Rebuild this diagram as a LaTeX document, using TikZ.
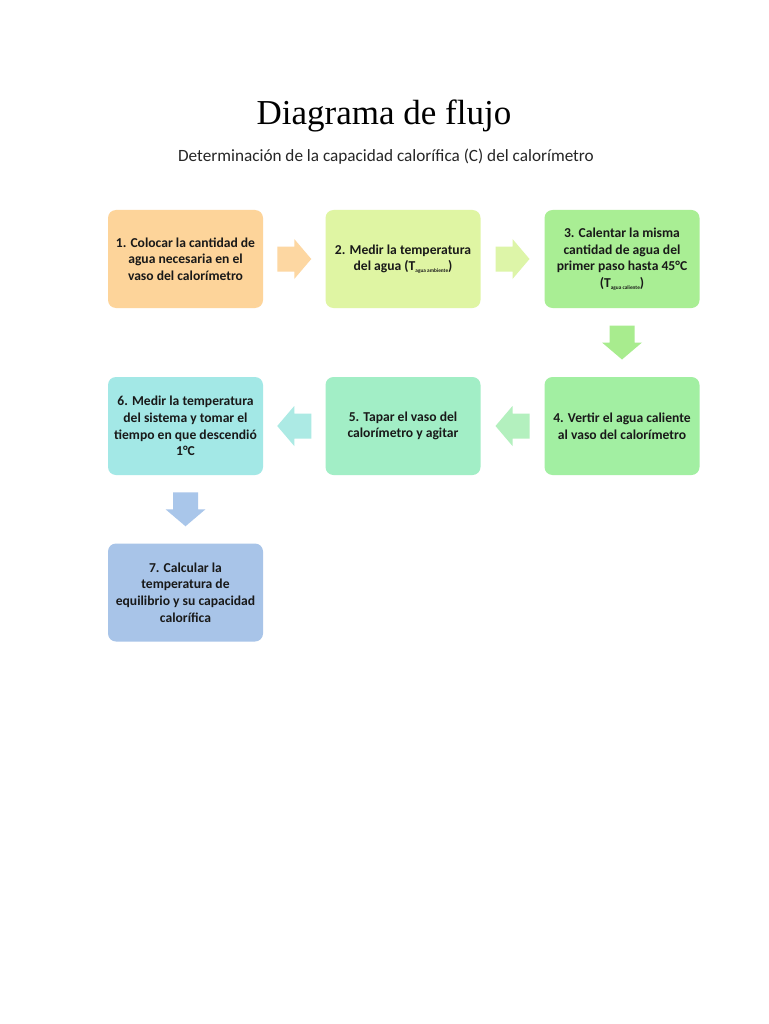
\documentclass[tikz,border=0pt]{standalone}
\usepackage{fontspec}
\setmainfont{Carlito}
\newfontfamily\titlefont{Liberation Serif}
\usetikzlibrary{calc}
\definecolor{c1}{HTML}{FDD49A}
\definecolor{c2}{HTML}{DFF5A3}
\definecolor{c3}{HTML}{A9EE94}
\definecolor{c4}{HTML}{A2EFA2}
\definecolor{c5}{HTML}{A2EEC6}
\definecolor{c6}{HTML}{A3E8E6}
\definecolor{c7}{HTML}{A8C4E8}
\definecolor{a1}{HTML}{FDD7A2}
\definecolor{a2}{HTML}{DDF5A8}
\definecolor{a3}{HTML}{A8EC8E}
\definecolor{a4}{HTML}{B3F0BE}
\definecolor{a5}{HTML}{ACEAE4}
\definecolor{a6}{HTML}{A9C6EA}
\newcommand{\subT}[1]{T\raisebox{-1.8pt}{\fontsize{5.3}{5.3}\selectfont #1})}
\newcommand{\blockarrow}[3]{%
  \fill[#3, shift={(#1)}, rotate=#2] (-17,-12.5) -- (0,-12.5) -- (0,-20) -- (17,0) -- (0,20) -- (0,12.5) -- (-17,12.5) -- cycle;}
\tikzset{
  stepbox/.style={draw=none, rounded corners=8pt, minimum width=155pt, minimum height=98pt,
    text width=152pt, align=flush center, inner sep=0pt, text=black!90,
    font=\bfseries\fontsize{13.6}{16.6}\selectfont},
}
\begin{document}
\begin{tikzpicture}[x=1pt,y=-1pt]
\useasboundingbox[fill=white] (0,0) rectangle (768,1024);
\node[anchor=base, font=\titlefont\fontsize{35}{40}\selectfont] (title) at (384,125) {Diagrama de flujo};
\node[anchor=base, font=\fontsize{17.2}{20}\selectfont, text=black!85] (subtitle) at (386,162) {Determinación de la capacidad calorífica (C) del calorímetro};

\node[stepbox, fill=c1] (b1) at (185.5,259) {1. Colocar la cantidad de\\ agua necesaria en el\\ vaso del calorímetro};
\node[stepbox, fill=c2] (b2) at (403,259) {2. Medir la temperatura\\ del agua (\subT{agua ambiente}};
\node[stepbox, fill=c3] (b3) at (622,259) {3. Calentar la misma\\ cantidad de agua del\\ primer paso hasta 45°C\\ (\subT{agua caliente}};
\node[stepbox, fill=c4] (b4) at (622,426) {4. Vertir el agua caliente\\ al vaso del calorímetro};
\node[stepbox, fill=c5] (b5) at (403,426) {5. Tapar el vaso del\\ calorímetro y agitar};
\node[stepbox, fill=c6] (b6) at (185.5,426) {6. Medir la temperatura\\ del sistema y tomar el\\ tiempo en que descendió\\ 1°C};
\node[stepbox, fill=c7] (b7) at (185.5,592.5) {7. Calcular la\\ temperatura de\\ equilibrio y su capacidad\\ calorífica};

\coordinate (a12) at ($(b1.east)!0.5!(b2.west)$);
\coordinate (a23) at ($(b2.east)!0.5!(b3.west)$);
\coordinate (a34) at ($(b3.south)!0.5!(b4.north)$);
\coordinate (a45) at ($(b4.west)!0.5!(b5.east)$);
\coordinate (a56) at ($(b5.west)!0.5!(b6.east)$);
\coordinate (a67) at ($(b6.south)!0.5!(b7.north)$);
\blockarrow{a12}{0}{a1}
\blockarrow{a23}{0}{a2}
\blockarrow{a34}{-90}{a3}
\blockarrow{a45}{180}{a4}
\blockarrow{a56}{180}{a5}
\blockarrow{a67}{-90}{a6}
\end{tikzpicture}
\end{document}
